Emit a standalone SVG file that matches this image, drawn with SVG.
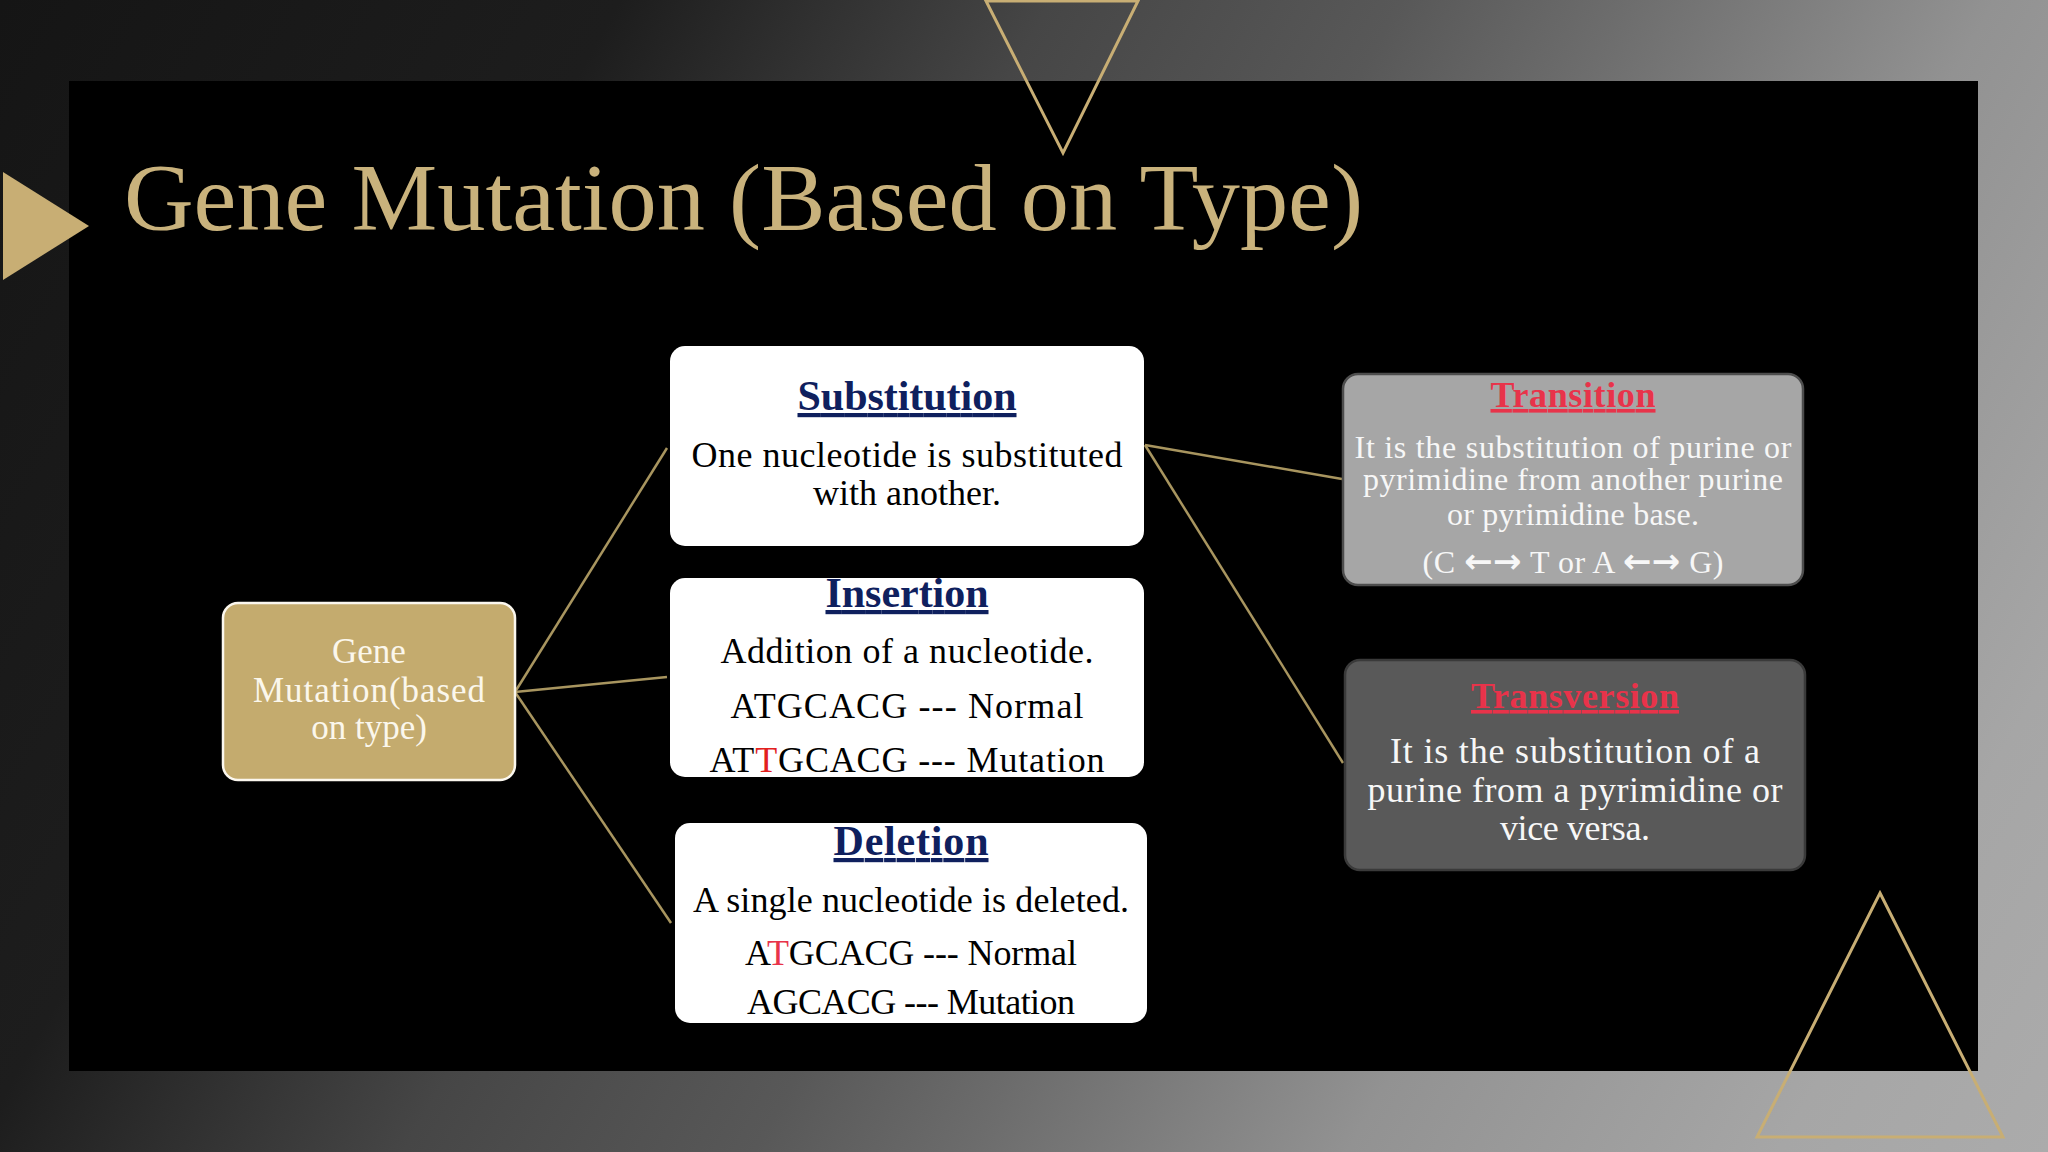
<svg xmlns="http://www.w3.org/2000/svg" width="2048" height="1152" viewBox="0 0 2048 1152">
  <defs>
    <linearGradient id="bg" gradientUnits="userSpaceOnUse" x1="0" y1="0" x2="2048" y2="1152">
      <stop offset="0" stop-color="#151515"/>
      <stop offset="0.23" stop-color="#1d1d1d"/>
      <stop offset="0.39" stop-color="#464646"/>
      <stop offset="0.52" stop-color="#585858"/>
      <stop offset="0.6" stop-color="#6c6c6c"/>
      <stop offset="0.74" stop-color="#929292"/>
      <stop offset="0.9" stop-color="#a6a6a6"/>
      <stop offset="1" stop-color="#ababab"/>
    </linearGradient>
    <style>
      .serif { font-family: "Liberation Serif", "DejaVu Serif", serif; }
      .title { font-size: 96px; fill: #c9b27c; }
      .head { font-size: 42px; font-weight: bold; fill: #0f205e; text-decoration: underline; text-anchor: middle; }
      .redhead { font-size: 36px; font-weight: bold; fill: #e8334a; text-decoration: underline; text-anchor: middle; }
      .body { font-size: 36px; fill: #000000; text-anchor: middle; }
      .wbody { font-size: 32px; fill: #f7f7f7; text-anchor: middle; }
      .wbody2 { font-size: 36px; fill: #f7f7f7; text-anchor: middle; }
      .gbody { font-size: 35px; fill: #fbf7ec; text-anchor: middle; }
      .arrow { font-family: "DejaVu Sans", sans-serif; font-size: 34px; font-weight: bold; }
      .conn { stroke: #a8955f; stroke-width: 2.5; fill: none; }
      .deco { stroke: #c8ae74; stroke-width: 3; fill: none; }
      .wbox { fill: #ffffff; }
    </style>
  </defs>

  <rect x="0" y="0" width="2048" height="1152" fill="url(#bg)"/>
  <rect x="69" y="81" width="1909" height="990" fill="#000000"/>

  <g id="decorations">
    <polygon class="deco" points="986,1 1138,1 1063,153"/>
    <polygon points="3,172 89,226 3,280" fill="#c8ae74"/>
    <polygon class="deco" points="1880,893 2003,1137 1757,1137"/>
  </g>

  <text class="serif title" x="124" y="230" textLength="1239" lengthAdjust="spacingAndGlyphs">Gene Mutation (Based on Type)</text>

  <g id="connectors">
    <line class="conn" x1="515" y1="692" x2="667" y2="448"/>
    <line class="conn" x1="515" y1="692" x2="667" y2="677"/>
    <line class="conn" x1="515" y1="692" x2="671" y2="923"/>
    <line class="conn" x1="1145" y1="445" x2="1342" y2="479"/>
    <line class="conn" x1="1145" y1="445" x2="1343" y2="763"/>
  </g>

  <g id="node-gene">
    <rect x="223" y="603" width="292" height="177" rx="15" fill="#c4ab6e" stroke="#fbf7ee" stroke-width="2.5"/>
    <text class="serif gbody" x="369" y="663">Gene</text>
    <text class="serif gbody" x="369" y="702" textLength="232">Mutation(based</text>
    <text class="serif gbody" x="369" y="739">on type)</text>
  </g>

  <g id="node-substitution">
    <rect class="wbox" x="670" y="346" width="474" height="200" rx="15"/>
    <text class="serif head" x="907" y="410" textLength="219">Substitution</text>
    <text class="serif body" x="907" y="467" textLength="431">One nucleotide is substituted</text>
    <text class="serif body" x="907" y="505">with another.</text>
  </g>

  <g id="node-insertion">
    <rect class="wbox" x="670" y="578" width="474" height="199" rx="15"/>
    <text class="serif head" x="907" y="607" textLength="163">Insertion</text>
    <text class="serif body" x="907" y="663" textLength="373">Addition of a nucleotide.</text>
    <text class="serif body" x="907" y="718" textLength="353">ATGCACG --- Normal</text>
    <text class="serif body" x="907" y="772" textLength="395">AT<tspan fill="#e2201e">T</tspan>GCACG --- Mutation</text>
  </g>

  <g id="node-deletion">
    <rect class="wbox" x="675" y="823" width="472" height="200" rx="15"/>
    <text class="serif head" x="911" y="855" textLength="155">Deletion</text>
    <text class="serif body" x="911" y="912" textLength="436">A single nucleotide is deleted.</text>
    <text class="serif body" x="911" y="965" textLength="332">A<tspan fill="#e8334a">T</tspan>GCACG --- Normal</text>
    <text class="serif body" x="911" y="1014" textLength="328">AGCACG --- Mutation</text>
  </g>

  <g id="node-transition">
    <rect x="1343" y="374" width="460" height="211" rx="15" fill="#a6a6a6" stroke="#4d4d4d" stroke-width="2.5"/>
    <text class="serif redhead" x="1573" y="407" textLength="165">Transition</text>
    <text class="serif wbody" x="1573" y="458" textLength="437">It is the substitution of purine or</text>
    <text class="serif wbody" x="1573" y="490" textLength="420">pyrimidine from another purine</text>
    <text class="serif wbody" x="1573" y="525" textLength="252">or pyrimidine base.</text>
    <text class="serif wbody" x="1573" y="573" textLength="301">(C <tspan class="arrow">←→</tspan> T or A <tspan class="arrow">←→</tspan> G)</text>
  </g>

  <g id="node-transversion">
    <rect x="1345" y="660" width="460" height="210" rx="15" fill="#595959" stroke="#3a3a3a" stroke-width="2.5"/>
    <text class="serif redhead" x="1575" y="708" textLength="208">Transversion</text>
    <text class="serif wbody2" x="1575" y="763" textLength="370">It is the substitution of a</text>
    <text class="serif wbody2" x="1575" y="802" textLength="415">purine from a pyrimidine or</text>
    <text class="serif wbody2" x="1575" y="840" textLength="150">vice versa.</text>
  </g>
</svg>
